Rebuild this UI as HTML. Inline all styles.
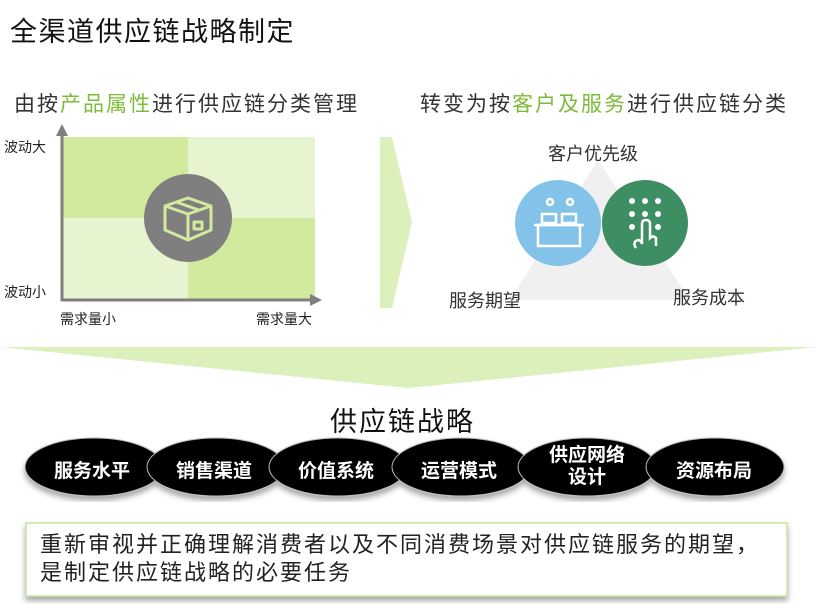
<!DOCTYPE html>
<html><head><meta charset="utf-8"><style>
body{margin:0;width:817px;height:615px;background:#fff;position:relative;overflow:hidden;font-family:"Liberation Sans","Noto Sans CJK SC",sans-serif;color:#222}
.t{position:absolute;white-space:nowrap}
</style></head><body>
<div class="t" style="left:10px;top:10px;font-size:27px;color:#111;letter-spacing:1.5px">全渠道供应链战略制定</div>
<div class="t" style="left:14px;top:88px;font-size:21px;letter-spacing:2px;color:#333">由按<span style="color:#7dbb3a">产品属性</span>进行供应链分类管理</div>
<div class="t" style="left:420px;top:88px;font-size:21px;letter-spacing:2px;color:#333">转变为按<span style="color:#7dbb3a">客户及服务</span>进行供应链分类</div>
<svg width="817" height="615" style="position:absolute;left:0;top:0">
<rect x="63" y="137" width="125" height="81" fill="#d1ea9e"/>
<rect x="188" y="137" width="127" height="81" fill="#e6f4cf"/>
<rect x="63" y="218" width="125" height="82" fill="#e6f4cf"/>
<rect x="188" y="218" width="127" height="82" fill="#d1ea9e"/>
<line x1="62" y1="134" x2="62" y2="301" stroke="#7f7f7f" stroke-width="3"/>
<polygon points="56,136 68,136 62,124" fill="#7f7f7f"/>
<line x1="61" y1="300" x2="312" y2="300" stroke="#7f7f7f" stroke-width="3"/>
<polygon points="310,294 310,306 322,300" fill="#7f7f7f"/>
<circle cx="188" cy="218" r="44" fill="#7f7f7f"/>
<g fill="none" stroke="#d1ea9e" stroke-width="3" stroke-linejoin="round">
<polygon points="165,206 188,198 211,206 188,214"/>
<polyline points="165,206 165,230 188,240 211,230 211,206"/>
<line x1="188" y1="214" x2="188" y2="240"/>
<polyline points="176,202 199,210"/>
<rect x="194" y="222" width="8" height="7"/>
</g>
<polygon points="380,137 392,137 412,222 392,308 380,308" fill="#dcf0bb"/>
<polygon points="598,160 690,300 510,300" fill="#f0f0f0"/>
<circle cx="558" cy="223" r="43" fill="#80c1e8" opacity="0.97"/>
<circle cx="645" cy="223" r="43" fill="#378a5e" opacity="0.97"/>
<g fill="none" stroke="#fff" stroke-width="2.5">
<circle cx="550" cy="202" r="3"/><circle cx="570" cy="202" r="3"/>
<rect x="542" y="214" width="14" height="9"/><rect x="562" y="214" width="14" height="9"/>
<line x1="534" y1="225" x2="584" y2="225"/>
<rect x="538" y="225" width="42" height="21"/>
<path d="M636,248 q-4,-6 2,-8 q3,0 4,4 v-20 q0,-4 4,-4 q4,0 4,4 v14 q3,-3 6,0 v8"/>
</g>
<g fill="#fff">
<circle cx="632" cy="201" r="3"/><circle cx="645" cy="201" r="3"/><circle cx="658" cy="201" r="3"/>
<circle cx="632" cy="214" r="3"/><circle cx="645" cy="214" r="3"/><circle cx="658" cy="214" r="3"/>
<circle cx="632" cy="227" r="3"/><circle cx="658" cy="227" r="3"/>
</g>
<polygon points="0,347 817,347 408,388" fill="#dcf0bb"/>
<defs><filter id="s"><feDropShadow dx="0" dy="4" stdDeviation="3" flood-color="#000" flood-opacity="0.35"/></filter></defs>
<g filter="url(#s)" fill="#000" stroke="#bbb" stroke-width="1">
<ellipse cx="94" cy="467" rx="69" ry="29"/>
<ellipse cx="216" cy="467" rx="69" ry="29"/>
<ellipse cx="338" cy="467" rx="69" ry="29"/>
<ellipse cx="461" cy="467" rx="69" ry="29"/>
<ellipse cx="587" cy="467" rx="69" ry="29"/>
<ellipse cx="715" cy="467" rx="69" ry="29"/>
</g>
<rect x="26" y="523" width="761" height="73" fill="#fff" stroke="#c6e29a" stroke-width="1.5" filter="url(#s)"/>
</svg>
<div class="t" style="left:4px;top:137px;font-size:14px">波动大</div>
<div class="t" style="left:4px;top:282px;font-size:14px">波动小</div>
<div class="t" style="left:60px;top:309px;font-size:14px">需求量小</div>
<div class="t" style="left:256px;top:309px;font-size:14px">需求量大</div>
<div class="t" style="left:548px;top:140px;font-size:18px;color:#333">客户优先级</div>
<div class="t" style="left:449px;top:287px;font-size:18px;color:#333">服务期望</div>
<div class="t" style="left:673px;top:284px;font-size:18px;color:#333">服务成本</div>
<div class="t" style="left:330px;top:400px;font-size:27px;color:#111;letter-spacing:2px">供应链战略</div>
<div class="t" style="left:54px;top:456px;font-size:19px;color:#fff;font-weight:bold">服务水平</div>
<div class="t" style="left:176px;top:456px;font-size:19px;color:#fff;font-weight:bold">销售渠道</div>
<div class="t" style="left:298px;top:456px;font-size:19px;color:#fff;font-weight:bold">价值系统</div>
<div class="t" style="left:421px;top:456px;font-size:19px;color:#fff;font-weight:bold">运营模式</div>
<div class="t" style="left:549px;top:445px;font-size:19px;color:#fff;font-weight:bold;text-align:center;line-height:22px">供应网络<br>设计</div>
<div class="t" style="left:676px;top:456px;font-size:19px;color:#fff;font-weight:bold">资源布局</div>
<div class="t" style="left:40px;top:531px;font-size:22px;color:#222;line-height:28px;letter-spacing:2px">重新审视并正确理解消费者以及不同消费场景对供应链服务的期望，<br>是制定供应链战略的必要任务</div>
</body></html>
